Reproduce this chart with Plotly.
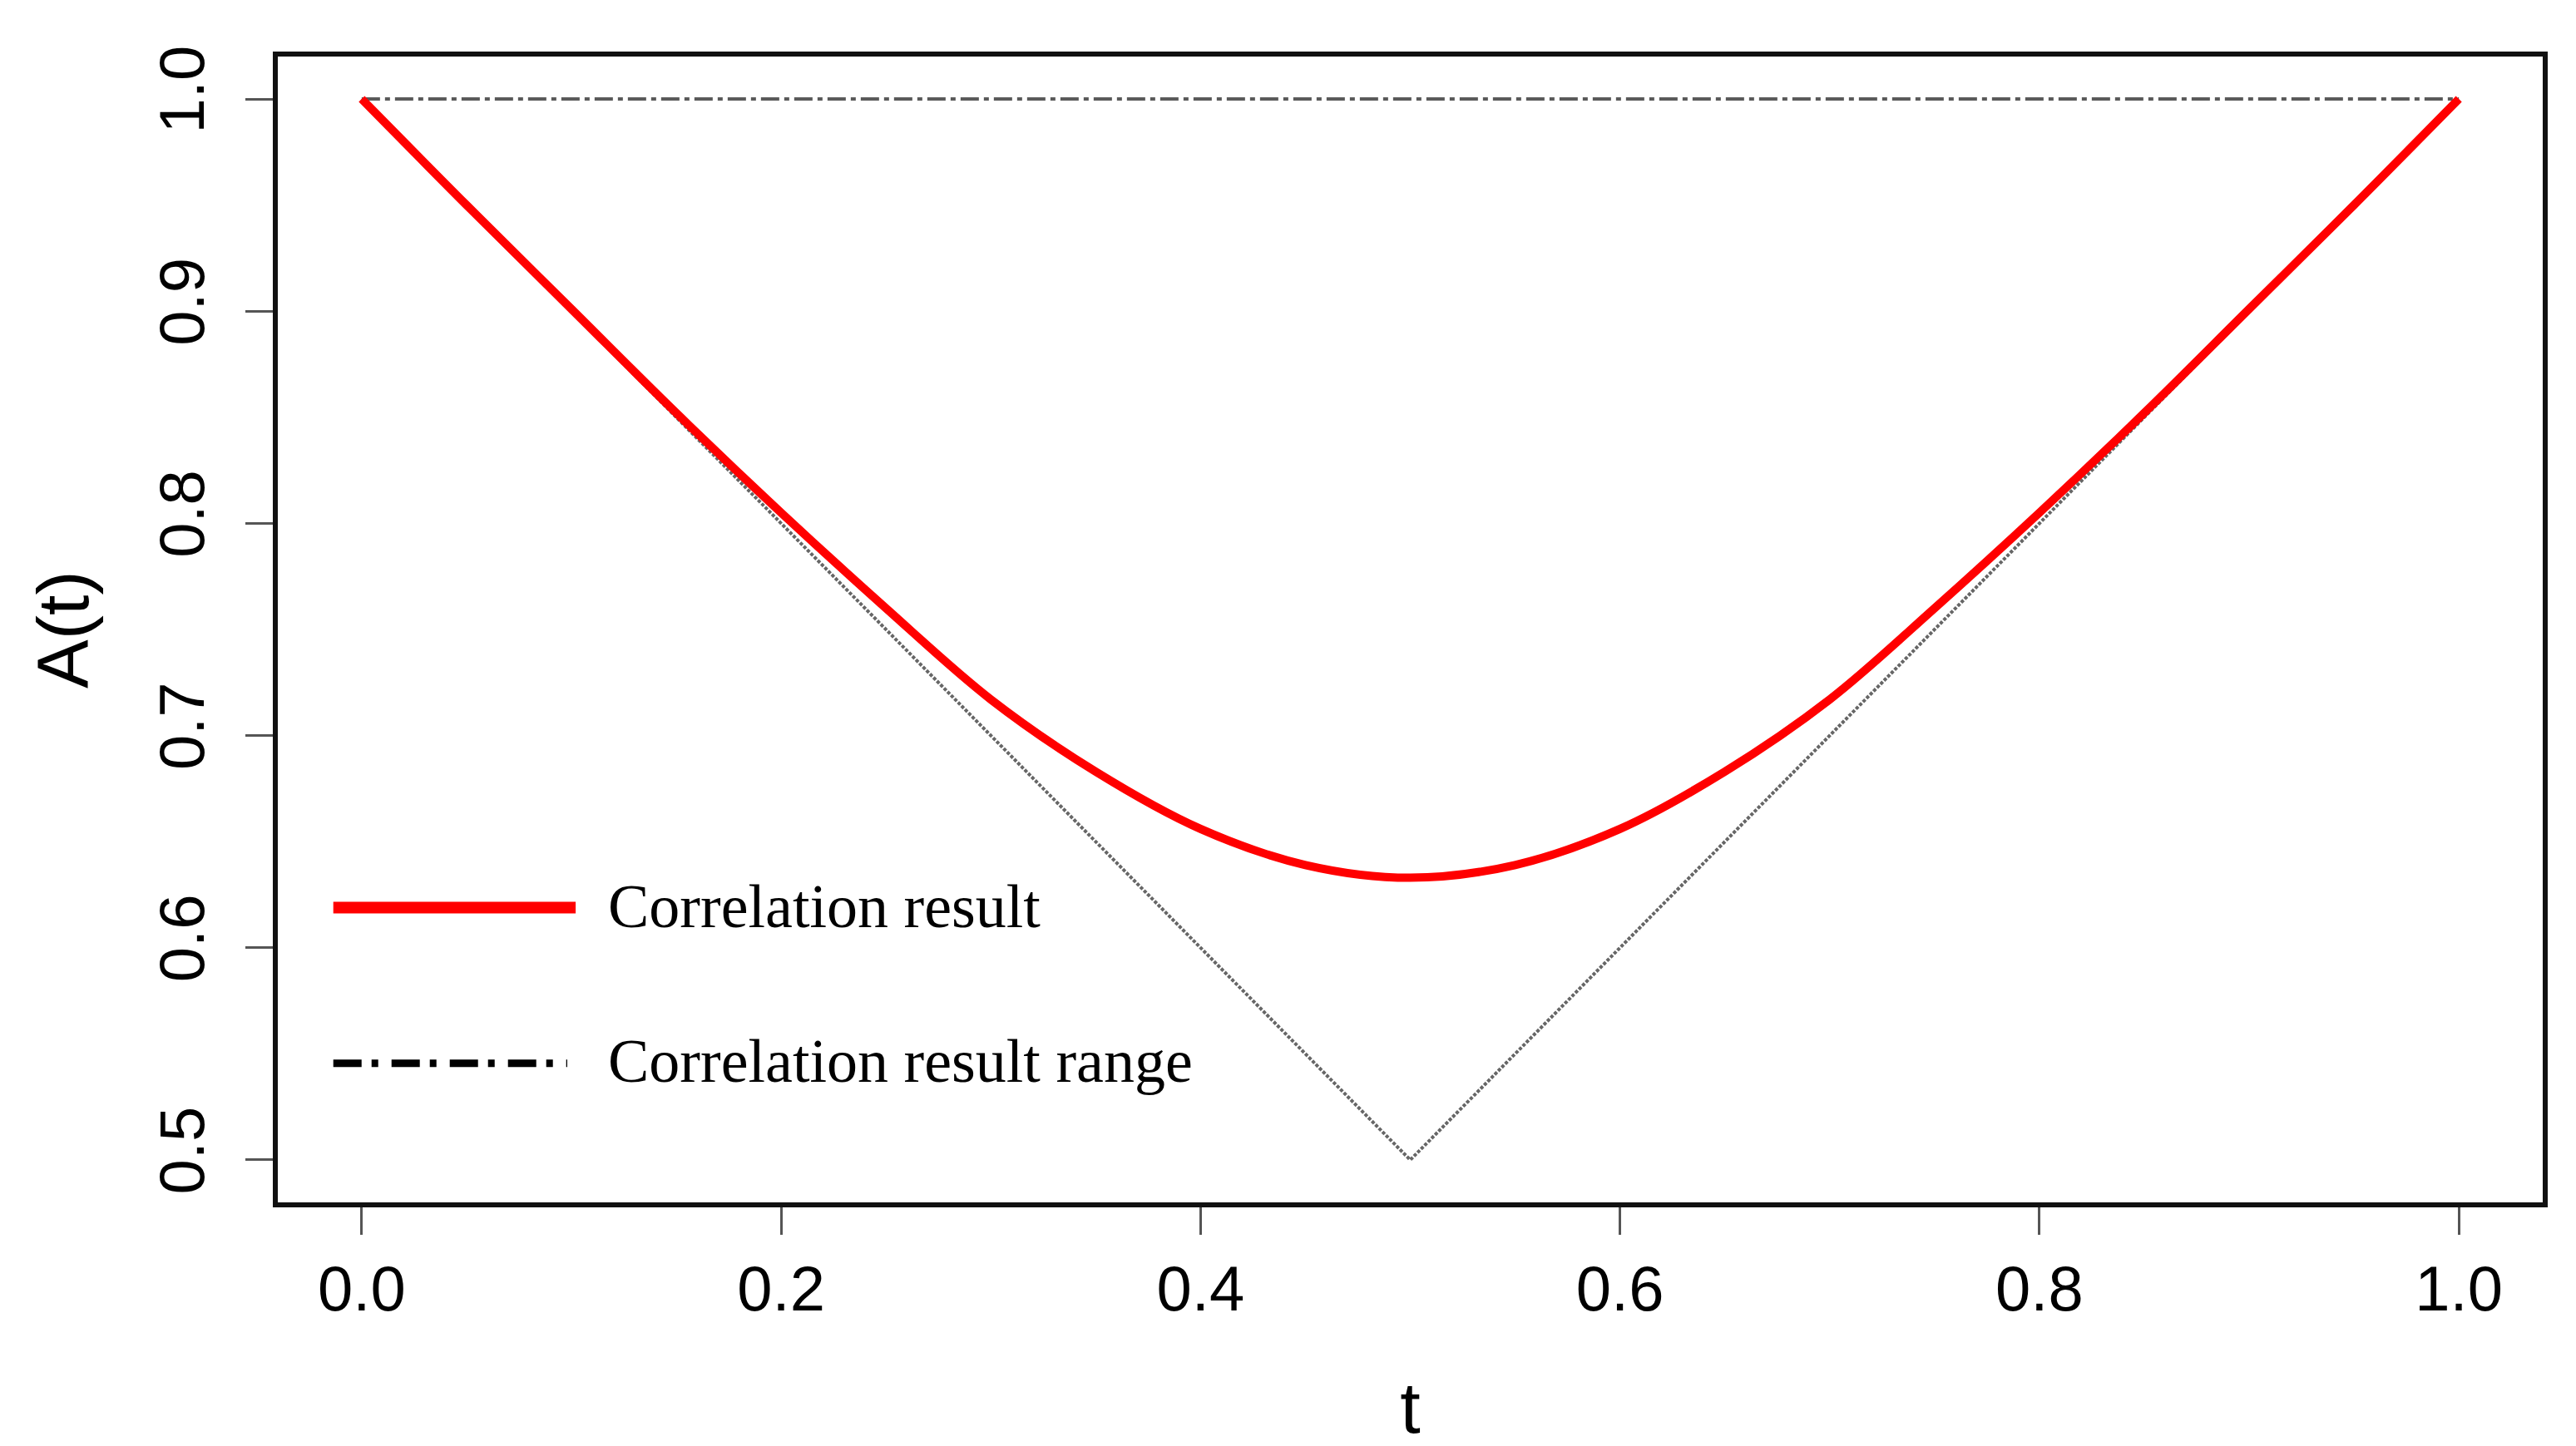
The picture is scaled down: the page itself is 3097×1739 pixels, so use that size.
import plotly.graph_objects as go

# estimated A(t)
t_vals = [0.00, 0.05, 0.10, 0.15, 0.20, 0.25, 0.30, 0.35, 0.40, 0.45, 0.50,
          0.55, 0.60, 0.65, 0.70, 0.75, 0.80, 0.85, 0.90, 0.95, 1.00]
a_vals = [1.000, 0.950, 0.901, 0.852, 0.805, 0.760, 0.717, 0.683, 0.656, 0.639, 0.633,
          0.639, 0.656, 0.683, 0.717, 0.760, 0.805, 0.852, 0.901, 0.950, 1.000]

# bounds of the result range
range_t = [0.0, 0.5, 1.0]
upper_bound = [1.0, 1.0, 1.0]
lower_bound = [1.0, 0.5, 1.0]

x_ticks = [0.0, 0.2, 0.4, 0.6, 0.8, 1.0]
y_ticks = [0.5, 0.6, 0.7, 0.8, 0.9, 1.0]

legend_names = ["Correlation result", "Correlation result range"]

SANS = "Arial, Liberation Sans, sans-serif"
SERIF = "Times New Roman, Liberation Serif, serif"

fig = go.Figure()

fig.add_trace(go.Scatter(
    x=range_t, y=upper_bound, mode="lines", name="upper",
    line=dict(color="#5a5a5a", width=4, dash="22px,6px,6px,6px"),
))
fig.add_trace(go.Scatter(
    x=range_t, y=lower_bound, mode="lines", name="lower",
    line=dict(color="#666666", width=4, dash="4px,2px"),
))
fig.add_trace(go.Scatter(
    x=t_vals, y=a_vals, mode="lines", name=legend_names[0],
    line=dict(color="#ff0000", width=10, shape="spline"),
))

# hand-made legend, R style (long swatches)
fig.add_shape(type="line", xref="x domain", yref="y domain",
              x0=0.0245, x1=0.1315, y0=0.2573, y1=0.2573,
              line=dict(color="#ff0000", width=14))
fig.add_shape(type="line", xref="x domain", yref="y domain",
              x0=0.0245, x1=0.1278, y0=0.1214, y1=0.1214,
              line=dict(color="#000000", width=9, dash="34px,12px,8px,16px"))
fig.add_annotation(text=legend_names[0], xref="x domain", yref="y domain",
                   x=0.145, y=0.2587, xanchor="left", yanchor="middle",
                   showarrow=False, font=dict(family=SERIF, size=74, color="black"))
fig.add_annotation(text=legend_names[1], xref="x domain", yref="y domain",
                   x=0.145, y=0.1235, xanchor="left", yanchor="middle",
                   showarrow=False, font=dict(family=SERIF, size=74, color="black"))

axis_common = dict(
    showline=True, mirror=True, linewidth=6, linecolor="#111111",
    showgrid=False, zeroline=False,
    ticks="outside", ticklen=33, tickwidth=3, tickcolor="#555555",
    tickfont=dict(family=SANS, size=76, color="black"),
    tickformat=".1f",
)

fig.update_xaxes(
    **axis_common, range=[-0.04, 1.04], tickvals=x_ticks,
    ticklabelstandoff=0,
    title=dict(text="t", font=dict(family=SANS, size=88, color="black"), standoff=72),
)
fig.update_yaxes(
    **axis_common, range=[0.48, 1.02], tickvals=y_ticks, tickangle=-90,
    ticklabelstandoff=20,
    title=dict(text="A(t)", font=dict(family=SANS, size=88, color="black"), standoff=42),
)

fig.update_layout(
    width=3097, height=1739,
    margin=dict(l=326, r=48, t=60, b=301),
    paper_bgcolor="white", plot_bgcolor="white",
    showlegend=False,
)

fig.write_html("out.html")
